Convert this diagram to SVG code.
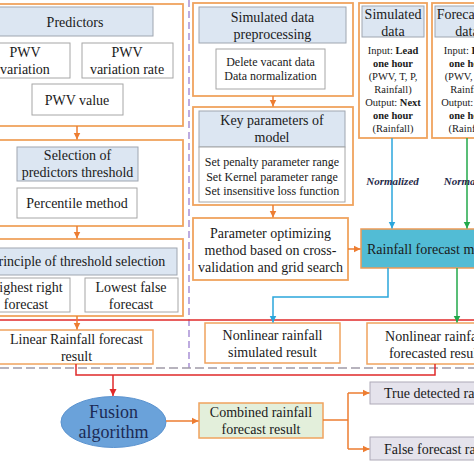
<svg xmlns="http://www.w3.org/2000/svg" width="474" height="474" viewBox="0 0 474 474">
<style>
.ob{fill:#fff;stroke:#f0a35e;stroke-width:1.8}
.hd{fill:#dce6f2;stroke:#9fa6b0;stroke-width:1}
.ib{fill:#fff;stroke:#a6a6a6;stroke-width:1}
.rb{fill:#fff;stroke:#f0a35e;stroke-width:1.5}
.t{font-family:"Liberation Serif",serif;font-size:14px;fill:#1a1a1a;text-anchor:middle}
.s12{font-size:12px}
.s10{font-size:10.5px}
.b{font-weight:bold}
.st{text-anchor:start}
.or{fill:none;stroke:#ed7d31;stroke-width:1.5}
.rd{fill:none;stroke:#e02a2a;stroke-width:1.5}
.bl{fill:none;stroke:#2ba6dc;stroke-width:1.5}
.gr{fill:none;stroke:#22a84a;stroke-width:1.5}
.nl{font-family:"Liberation Serif",serif;font-size:11px;font-style:italic;font-weight:bold;fill:#1f2a4a;text-anchor:middle}
</style>
<defs>
<marker id="ao" markerUnits="userSpaceOnUse" markerWidth="8" markerHeight="8" refX="7" refY="4" orient="auto"><path d="M0,0.5 L7,4 L0,7.5 z" fill="#ed7d31"/></marker>
<marker id="ar" markerUnits="userSpaceOnUse" markerWidth="8" markerHeight="8" refX="7" refY="4" orient="auto"><path d="M0,0.5 L7,4 L0,7.5 z" fill="#e02a2a"/></marker>
<marker id="ab" markerUnits="userSpaceOnUse" markerWidth="8" markerHeight="8" refX="7" refY="4" orient="auto"><path d="M0,0.5 L7,4 L0,7.5 z" fill="#2ba6dc"/></marker>
<marker id="ag" markerUnits="userSpaceOnUse" markerWidth="8" markerHeight="8" refX="7" refY="4" orient="auto"><path d="M0,0.5 L7,4 L0,7.5 z" fill="#22a84a"/></marker>
</defs>
<rect width="474" height="474" fill="#fff"/>

<!-- dashed separators -->
<g id="separators">
<line x1="189" y1="0" x2="189" y2="368" stroke="#9b7fcf" stroke-width="1.3" stroke-dasharray="7,4"/>
<line x1="0" y1="368" x2="474" y2="368" stroke="#a09aa8" stroke-width="1.5" stroke-dasharray="9,4"/>
</g>

<!-- Left column -->
<g id="predictors">
<rect class="ob" x="-5" y="4" width="188" height="122"/>
<rect class="hd" x="-3" y="7" width="156" height="29"/>
<text class="t" x="75" y="26.5">Predictors</text>
<rect class="ib" x="-20" y="43" width="90" height="35"/>
<text class="t" x="25" y="57">PWV</text><text class="t" x="25" y="74">variation</text>
<rect class="ib" x="82" y="43" width="91" height="35"/>
<text class="t" x="127" y="57">PWV</text><text class="t" x="127" y="74">variation rate</text>
<rect class="ib" x="32" y="84" width="91" height="31"/>
<text class="t" x="77" y="104.5">PWV value</text>
</g>
<g id="selection">
<rect class="ob" x="-5" y="140" width="188" height="86"/>
<rect class="hd" x="17" y="147" width="121" height="34"/>
<text class="t" x="77.5" y="160">Selection of</text><text class="t" x="77.5" y="177">predictors threshold</text>
<rect class="ib" x="17" y="188" width="120" height="30"/>
<text class="t" x="77" y="208">Percentile method</text>
</g>
<g id="principle">
<rect class="ob" x="-5" y="239" width="188" height="77"/>
<rect class="hd" x="-5" y="248" width="182" height="27"/>
<text class="t" x="78" y="266">Principle of threshold selection</text>
<rect class="ib" x="-20" y="278" width="90" height="34"/>
<text class="t" x="26" y="292">Highest right</text><text class="t" x="26" y="309">forecast</text>
<rect class="ib" x="85" y="278" width="93" height="34"/>
<text class="t" x="131" y="292">Lowest false</text><text class="t" x="131" y="309">forecast</text>
</g>
<g id="linear-result">
<rect class="rb" x="-5" y="330" width="158" height="34"/>
<text class="t" x="76.5" y="344">Linear Rainfall forecast</text><text class="t" x="76.5" y="361">result</text>
</g>

<!-- Middle column -->
<g id="preprocessing">
<rect class="ob" x="193" y="3" width="160" height="93"/>
<rect class="hd" x="199" y="7" width="147" height="36"/>
<text class="t" x="272.5" y="22">Simulated data</text><text class="t" x="272.5" y="38.5">preprocessing</text>
<rect class="ib" x="216" y="49" width="109" height="40"/>
<text class="t s12" x="270.5" y="66">Delete vacant data</text><text class="t s12" x="270.5" y="80">Data normalization</text>
</g>
<g id="key-parameters">
<rect class="ob" x="193" y="107" width="160" height="98"/>
<rect class="hd" x="199" y="111" width="146" height="36"/>
<text class="t" x="272" y="125">Key parameters of</text><text class="t" x="272" y="141.5">model</text>
<rect class="ib" x="199" y="147" width="146" height="55"/>
<text class="t s12" x="272" y="166">Set  penalty parameter range</text>
<text class="t s12" x="272" y="181">Set Kernel parameter range</text>
<text class="t s12" x="272" y="195">Set insensitive loss function</text>
</g>
<g id="optimizing">
<rect class="ob" x="193" y="218" width="155" height="62"/>
<text class="t" x="270.5" y="238">Parameter optimizing</text>
<text class="t" x="270.5" y="255">method based on cross-</text>
<text class="t" x="270.5" y="272">validation and grid search</text>
</g>

<!-- Right column -->
<g id="simulated-data">
<rect class="ob" x="359" y="3" width="68" height="135"/>
<rect class="hd" x="362" y="6" width="62" height="31"/>
<text class="t" x="393" y="19">Simulated</text><text class="t" x="393" y="36">data</text>
<text class="t s10" x="393" y="54">Input: <tspan class="b">Lead</tspan></text>
<text class="t s10 b" x="393" y="67">one hour</text>
<text class="t s10" x="393" y="80">(PWV, T, P,</text>
<text class="t s10" x="393" y="93">Rainfall)</text>
<text class="t s10" x="393" y="106">Output: <tspan class="b">Next</tspan></text>
<text class="t s10 b" x="393" y="119">one hour</text>
<text class="t s10" x="393" y="132">(Rainfall)</text>
</g>
<g id="forecasted-data">
<rect class="ob" x="432" y="3" width="70" height="135"/>
<rect class="hd" x="435" y="6" width="64" height="31"/>
<text class="t" x="467" y="19">Forecasted</text><text class="t" x="467" y="36">data</text>
<text class="t s10" x="469" y="54">Input: <tspan class="b">Lead</tspan></text>
<text class="t s10 b" x="469" y="67">one hour</text>
<text class="t s10" x="469" y="80">(PWV, T, P,</text>
<text class="t s10" x="469" y="93">Rainfall)</text>
<text class="t s10" x="469" y="106">Output: <tspan class="b">Next</tspan></text>
<text class="t s10 b" x="469" y="119">one hour</text>
<text class="t s10" x="469" y="132">(Rainfall)</text>
</g>
<g id="rainfall-model">
<rect x="361" y="229" width="130" height="39" fill="#52bcd5" stroke="#ee9a55" stroke-width="1.5"/>
<text class="t st" x="367" y="254">Rainfall forecast model</text>
</g>
<g id="nonlinear-simulated">
<rect class="rb" x="205" y="323" width="135" height="40"/>
<text class="t" x="272.5" y="340">Nonlinear rainfall</text><text class="t" x="272.5" y="357">simulated result</text>
</g>
<g id="nonlinear-forecasted">
<rect class="rb" x="367" y="323" width="136" height="41"/>
<text class="t" x="435" y="341">Nonlinear rainfall</text><text class="t" x="435" y="358">forecasted result</text>
</g>

<!-- Bottom -->
<g id="fusion">
<ellipse cx="113.5" cy="422" rx="52.5" ry="25.5" fill="#6aa2da" stroke="#5b93cf" stroke-width="1"/>
<text class="t" x="113.5" y="418" style="font-size:18px;fill:#1c2b55">Fusion</text>
<text class="t" x="113.5" y="438" style="font-size:18px;fill:#1c2b55">algorithm</text>
</g>
<g id="combined">
<rect x="199" y="403" width="124" height="35" fill="#e3efdb" stroke="#f0a35e" stroke-width="1.5"/>
<text class="t" x="261" y="417">Combined rainfall</text><text class="t" x="261" y="434">forecast result</text>
</g>
<g id="true-detected">
<rect x="370" y="382" width="115" height="22" fill="#e5e3ec" stroke="#aeaab8" stroke-width="1"/>
<text class="t st" x="384" y="398">True detected rainfall</text>
</g>
<g id="false-forecast">
<rect x="370" y="437" width="115" height="23" fill="#e5e3ec" stroke="#aeaab8" stroke-width="1"/>
<text class="t st" x="384" y="453.5">False forecast rainfall</text>
</g>

<!-- Connectors -->
<g id="connectors">
<line class="or" x1="77" y1="126" x2="77" y2="139.5" marker-end="url(#ao)"/>
<line class="or" x1="77" y1="226" x2="77" y2="238.5" marker-end="url(#ao)"/>
<line class="rd" x1="0" y1="320" x2="474" y2="320"/>
<line class="or" x1="77" y1="316" x2="77" y2="329.5" marker-end="url(#ao)"/>
<line class="or" x1="273" y1="96" x2="273" y2="106.5" marker-end="url(#ao)"/>
<line class="or" x1="273" y1="205" x2="273" y2="217.5" marker-end="url(#ao)"/>
<line class="or" x1="348" y1="249" x2="360.5" y2="249" marker-end="url(#ao)"/>
<line class="bl" x1="392" y1="138" x2="392" y2="228.5" marker-end="url(#ab)"/>
<line class="gr" x1="467" y1="138" x2="467" y2="228.5" marker-end="url(#ag)"/>
<text class="nl" x="392.5" y="185">Normalized</text>
<text class="nl" x="470" y="185">Normalized</text>
<path class="bl" d="M388,268 V297 H273 V322.5" marker-end="url(#ab)"/>
<line class="gr" x1="457" y1="268" x2="457" y2="322.5" marker-end="url(#ag)"/>
<path class="rd" d="M76,364 V375 H435 V364"/>
<line class="rd" x1="113" y1="375" x2="113" y2="396" marker-end="url(#ar)"/>
<line class="or" x1="166" y1="421" x2="198.5" y2="421" marker-end="url(#ao)"/>
<path class="or" d="M323,420 H348"/>
<path class="or" d="M348,393 V449"/>
<line class="or" x1="348" y1="393" x2="369.5" y2="393" marker-end="url(#ao)"/>
<line class="or" x1="348" y1="449" x2="369.5" y2="449" marker-end="url(#ao)"/>
</g>
</svg>
